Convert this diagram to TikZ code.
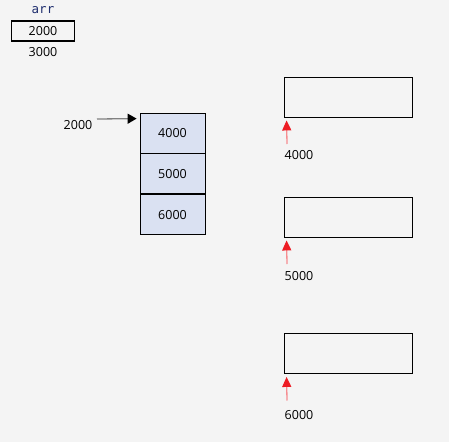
\documentclass[tikz,border=0pt]{standalone}
\usepackage{fontspec}
\setmainfont{Open Sans}
\setmonofont{DejaVu Sans Mono}
\usetikzlibrary{positioning, arrows.meta}
\definecolor{backColor}{RGB}{244,244,244}
\definecolor{cellColor}{RGB}{218,225,242}
\definecolor{pointerColor}{RGB}{237,28,36}
\definecolor{nameColor}{RGB}{30,45,110}
\tikzstyle{memory} = [x = 1pt, y = -1pt, every node/.style={font=\fontsize{12.5}{14}\selectfont}]
\tikzstyle{varStyle} = [draw=black, line width=1.6pt, minimum width=63pt, minimum height=20pt, inner sep=0pt]
\tikzstyle{cellStyle} = [draw=black, fill=cellColor, line width=.8pt, minimum width=65pt, minimum height=40pt, inner sep=0pt]
\tikzstyle{blockStyle} = [draw=black, line width=.9pt, minimum width=128pt, minimum height=40pt, inner sep=0pt]
\tikzstyle{baseArrow} = [color=black!50, line width=1.3pt, -{Triangle[color=black, width=10pt, length=9pt]}]
\tikzstyle{heapArrow} = [color=pointerColor!50, line width=1.3pt, -{Triangle[color=pointerColor, width=9pt, length=10pt]}]
% one heap block with its red pointer and address
\newcommand{\heapBlock}[4]{
  \node [blockStyle] (block#1) at (348, #2) {};
  \node (addr#1) at (299, #4) {#3};
  \coordinate (tail#1) at (287, #2 + 47);
  \draw [heapArrow] (tail#1) -- ([xshift=3pt, yshift=-3pt]block#1.south west);
}

\begin{document}
\begin{tikzpicture}[memory]
  \fill [backColor] (0,0) rectangle (449,442);
  \useasboundingbox (0,0) rectangle (449,442);

  % the variable arr
  \node [font=\ttfamily\fontsize{12.5}{14}\selectfont, color=nameColor] (arrName) at (43, 10) {arr};
  \node [varStyle] (arrBox) at (43, 31) {2000};
  \node (arrAddr) at (43, 52) {3000};

  % the array of pointers
  \node [cellStyle] (cell1) at (172.5, 133) {4000};
  \node [cellStyle, below = 0pt of cell1] (cell2) {5000};
  \node [cellStyle, below = 0pt of cell2] (cell3) {6000};
  \node (baseAddr) at (78, 125) {2000};
  \coordinate (baseTail) at (97, 119);
  \draw [baseArrow] (baseTail) -- ([xshift=-3pt, yshift=-6pt]cell1.north west);

  % the blocks they point to
  \heapBlock{1}{97}{4000}{155}
  \heapBlock{2}{217}{5000}{276}
  \heapBlock{3}{353.5}{6000}{415}
\end{tikzpicture}
\end{document}
